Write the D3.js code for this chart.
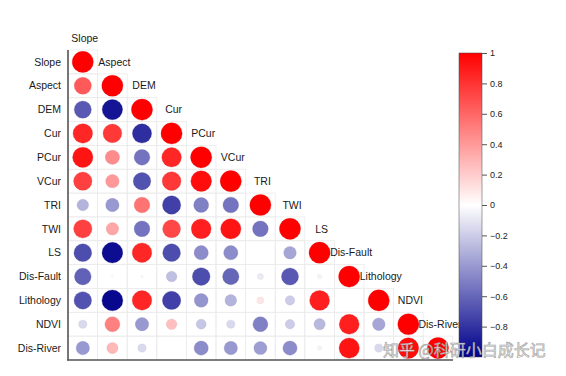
<!DOCTYPE html>
<html>
<head>
<meta charset="utf-8">
<script src="https://cdn.jsdelivr.net/npm/d3@7"></script>
<style>
  html, body { margin: 0; padding: 0; background: #ffffff; }
  svg { display: block; font-family: "Liberation Sans", Arial, sans-serif; }
</style>
</head>
<body>
<svg id="chart" width="566" height="376"></svg>
<script>
// ---- data ----
const variables = ["Slope","Aspect","DEM","Cur","PCur","VCur","TRI","TWI","LS","Dis-Fault","Lithology","NDVI","Dis-River"];
// lower triangle correlations, row by row (columns in variable order, diagonal = 1)
const rowSlope     = [1];
const rowAspect    = [0.65, 1];
const rowDEM       = [-0.65, -0.92, 1];
const rowCur       = [0.85, 0.78, -0.82, 1];
const rowPCur      = [0.92, 0.45, -0.55, 0.85, 1];
const rowVCur      = [0.75, 0.40, -0.68, 0.78, 0.95, 1];
const rowTRI       = [-0.30, -0.40, 0.55, -0.75, -0.50, -0.55, 1];
const rowTWI       = [0.75, 0.35, -0.55, 0.72, 0.88, 0.92, -0.55, 1];
const rowLS        = [-0.70, -0.95, 0.85, -0.70, -0.45, -0.45, 0.0, -0.35, 1];
const rowDisFault  = [-0.62, -0.01, 0.01, -0.25, -0.70, -0.60, -0.08, -0.65, -0.04, 1];
const rowLithology = [-0.68, -0.97, 0.85, -0.75, -0.42, -0.30, 0.10, -0.20, 0.88, 0.0, 1];
const rowNDVI      = [-0.15, 0.50, -0.40, 0.25, -0.22, -0.15, -0.50, -0.20, -0.28, 0.88, -0.35, 1];
const rowDisRiver  = [-0.40, 0.28, -0.15, 0.0, -0.45, -0.40, -0.38, -0.45, -0.04, 0.92, -0.15, 0.95, 1];
const lowerRows = [rowSlope,rowAspect,rowDEM,rowCur,rowPCur,rowVCur,rowTRI,rowTWI,rowLS,rowDisFault,rowLithology,rowNDVI,rowDisRiver];
const legendTicks = [1, 0.8, 0.6, 0.4, 0.2, 0, -0.2, -0.4, -0.6, -0.8];
const watermark = "知乎 @科研小白成长记";

// ---- build cells ----
const cells = [];
lowerRows.forEach((row, i) => row.forEach((v, j) => cells.push({row: variables[i], col: variables[j], value: v})));

const svg = d3.select("#chart");
const x = d3.scaleBand().domain(variables).range([68, 452.8]);
const y = d3.scaleBand().domain(variables).range([50, 360]);
const color = d3.scaleLinear().domain([-1, 0, 1]).range(["#00008B", "#ffffff", "#ff0000"]);
const radius = d3.scaleSqrt().domain([0, 1]).range([0, 10.6]);

// grid
svg.append("g").selectAll("rect").data(cells).join("rect")
  .attr("x", d => x(d.col)).attr("y", d => y(d.row))
  .attr("width", x.bandwidth()).attr("height", y.bandwidth())
  .attr("fill", "none").attr("stroke", "#ebebeb").attr("stroke-width", 0.8);

// circles
svg.append("g").selectAll("circle").data(cells).join("circle")
  .attr("cx", d => x(d.col) + x.bandwidth() / 2)
  .attr("cy", d => y(d.row) + y.bandwidth() / 2)
  .attr("r", d => radius(Math.abs(d.value)))
  .attr("fill", d => color(d.value))
  .attr("stroke", d => d3.color(color(d.value)).darker(0.4))
  .attr("stroke-opacity", 0.35)
  .attr("stroke-width", 0.8);

// axis lines
svg.append("line").attr("x1", 68).attr("x2", 68).attr("y1", 50).attr("y2", 360.5)
  .attr("stroke", "#555").attr("stroke-width", 1.6);
svg.append("line").attr("x1", 67.2).attr("x2", 453).attr("y1", 360).attr("y2", 360)
  .attr("stroke", "#555").attr("stroke-width", 1.6);

// row labels
svg.append("g").selectAll("text").data(variables).join("text")
  .attr("x", 61).attr("y", d => y(d) + y.bandwidth() / 2)
  .attr("dy", "0.35em").attr("text-anchor", "end")
  .attr("font-size", 10.5).attr("fill", "#1a1a1a").text(d => d);

// diagonal (column) labels, placed just above-right of each diagonal cell
svg.append("g").selectAll("text").data(variables).join("text")
  .attr("x", d => x(d) + x.bandwidth() / 2 + 2)
  .attr("y", (d, i) => i === 0 ? 38 : y(variables[i - 1]) + y.bandwidth() / 2)
  .attr("dy", "0.35em").attr("text-anchor", "middle")
  .attr("font-size", 10.5).attr("fill", "#1a1a1a").text(d => d);

// colour bar
const barX = 459, barW = 23;
const cy = d3.scaleLinear().domain([-1, 1]).range([357, 53]);
const defs = svg.append("defs");
const grad = defs.append("linearGradient").attr("id", "cbar")
  .attr("x1", 0).attr("x2", 0).attr("y1", 1).attr("y2", 0);
d3.range(-1, 1.0001, 0.1).forEach(v => grad.append("stop")
  .attr("offset", (v + 1) / 2).attr("stop-color", color(v)));
svg.append("rect").attr("x", barX).attr("y", cy(1)).attr("width", barW)
  .attr("height", cy(-1) - cy(1)).attr("fill", "url(#cbar)")
  .attr("stroke", "#444").attr("stroke-width", 0.5);
const cAxis = svg.append("g").attr("transform", `translate(${barX + barW},0)`)
  .call(d3.axisRight(cy).tickValues(legendTicks).tickSize(5).tickPadding(3)
    .tickFormat(d => d3.format("")(+d.toFixed(1))));
cAxis.select(".domain").remove();
cAxis.selectAll("line").attr("stroke", "#555");
cAxis.selectAll("text").attr("font-size", 9).attr("fill", "#222")
  .attr("font-family", "'Liberation Sans', Arial, sans-serif");

// watermark
svg.append("text").attr("x", 383).attr("y", 356)
  .attr("font-family", "'Noto Sans CJK SC', sans-serif").attr("font-size", 16)
  .attr("fill", "#ffffff").attr("fill-opacity", 0.9)
  .attr("stroke", "#8a8a8a").attr("stroke-width", 0.7).attr("stroke-opacity", 0.8)
  .text(watermark);
</script>
</body>
</html>
